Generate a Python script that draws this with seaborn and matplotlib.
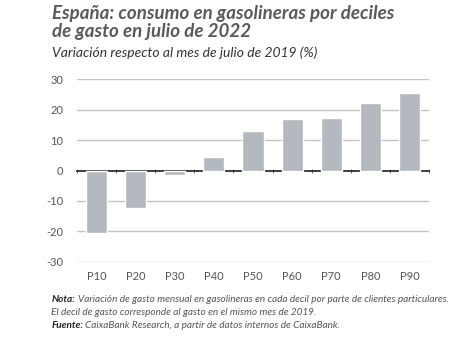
import matplotlib
matplotlib.use("Agg")
import matplotlib.pyplot as plt
import seaborn as sns
import pandas as pd

categories = ["P10", "P20", "P30", "P40", "P50", "P60", "P70", "P80", "P90"]
values = [-20.7, -12.3, -1.6, 4.4, 13.0, 16.9, 17.2, 22.2, 25.4]
yticks = [-30, -20, -10, 0, 10, 20, 30]

sns.set_theme(style="white")
plt.rcParams['font.family'] = ['Lato', 'DejaVu Sans']

df = pd.DataFrame({"decil": categories, "valor": values})

fig = plt.figure(figsize=(4.74, 3.42), dpi=100)
ax = fig.add_axes([0.1624, 0.2348, 0.905 - 0.1624, 0.768 - 0.2348])

sns.barplot(data=df, x="decil", y="valor", color="#b3b9be", width=0.54,
            saturation=1, ax=ax, zorder=2)

ax.set_ylim(-30, 30)
ax.set_xlim(-0.5, len(categories) - 0.5)
ax.set_yticks(yticks)
ax.set_yticklabels([str(t) for t in yticks])
for t in yticks:
    if t != 0:
        ax.axhline(t, color="#c4c4c4", lw=1.0, zorder=1)
for s in ax.spines.values():
    s.set_visible(False)
ax.set_xlabel("")
ax.set_ylabel("")
ax.tick_params(axis="both", length=0, labelsize=8, colors="#555555")
ax.tick_params(axis="x", pad=7)
ax.tick_params(axis="y", pad=10)

sec = ax.secondary_xaxis(0.5)
sec.set_xticks([i - 0.5 for i in range(len(categories) + 1)])
sec.set_xticklabels([])
sec.tick_params(direction="inout", length=3, width=0.6, color="#555555")
sec.spines["bottom"].set_color("#555555")
sec.spines["bottom"].set_linewidth(1.0)

fig.text(0.110, 0.945, "España: consumo en gasolineras por deciles", fontsize=13.5,
         fontweight="bold", fontstyle="italic", color="#5a5a5a", va="baseline")
fig.text(0.110, 0.893, "de gasto en julio de 2022", fontsize=13.5,
         fontweight="bold", fontstyle="italic", color="#5a5a5a", va="baseline")
fig.text(0.110, 0.832, "Variación respecto al mes de julio de 2019 (%)", fontsize=10,
         fontstyle="italic", color="#333333", va="baseline")

fig.text(0.108, 0.118, "Nota:", fontsize=7.2, fontweight="bold", fontstyle="italic",
         color="#222222", va="baseline")
fig.text(0.165, 0.118, "Variación de gasto mensual en gasolineras en cada decil por parte de clientes particulares.",
         fontsize=7.2, fontstyle="italic", color="#555555", va="baseline")
fig.text(0.108, 0.080, "El decil de gasto corresponde al gasto en el mismo mes de 2019.",
         fontsize=7.2, fontstyle="italic", color="#555555", va="baseline")
fig.text(0.108, 0.042, "Fuente:", fontsize=7.2, fontweight="bold", fontstyle="italic",
         color="#222222", va="baseline")
fig.text(0.180, 0.042, "CaixaBank Research, a partir de datos internos de CaixaBank.",
         fontsize=7.2, fontstyle="italic", color="#555555", va="baseline")

fig.savefig("out.png", dpi=100, facecolor="white")
